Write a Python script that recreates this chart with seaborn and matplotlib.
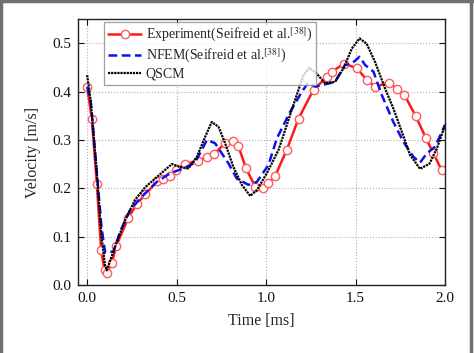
import numpy as np
import pandas as pd
import seaborn as sns
import matplotlib
matplotlib.use('Agg')
import matplotlib.pyplot as plt
from matplotlib.lines import Line2D

# Experiment (Seifreid et al.) - markers
exp_t = [0.0, 0.026, 0.054, 0.078, 0.097, 0.11, 0.138, 0.162, 0.23, 0.277, 0.324,
         0.393, 0.426, 0.464, 0.497, 0.547, 0.618, 0.668, 0.709, 0.771, 0.814,
         0.845, 0.888, 0.939, 0.985, 1.013, 1.05, 1.116, 1.181, 1.265, 1.339,
         1.367, 1.437, 1.507, 1.563, 1.609, 1.684, 1.73, 1.773, 1.836, 1.894,
         1.935, 1.98]
exp_v = [0.41, 0.344, 0.209, 0.072, 0.03, 0.024, 0.045, 0.08, 0.139, 0.167, 0.187,
         0.215, 0.22, 0.225, 0.238, 0.251, 0.256, 0.265, 0.27, 0.294, 0.298,
         0.287, 0.241, 0.203, 0.2, 0.21, 0.225, 0.28, 0.344, 0.404, 0.43,
         0.441, 0.458, 0.448, 0.424, 0.41, 0.418, 0.406, 0.393, 0.349, 0.303,
         0.272, 0.238]

# NFEM (Seifreid et al.)
nfem_t = [0.0, 0.02, 0.05, 0.08, 0.1, 0.147, 0.184, 0.24, 0.315, 0.389, 0.464,
          0.538, 0.603, 0.64, 0.669, 0.715, 0.79, 0.836, 0.901, 0.948, 1.013,
          1.06, 1.134, 1.199, 1.236, 1.274, 1.33, 1.385, 1.441, 1.479, 1.522,
          1.553, 1.6, 1.646, 1.711, 1.767, 1.823, 1.86, 1.898, 1.944, 2.0]
nfem_v = [0.41, 0.38, 0.25, 0.12, 0.067, 0.069, 0.11, 0.155, 0.186, 0.213, 0.231,
          0.241, 0.253, 0.279, 0.3, 0.293, 0.251, 0.22, 0.207, 0.213, 0.248,
          0.303, 0.358, 0.399, 0.419, 0.41, 0.415, 0.42, 0.455, 0.458, 0.472,
          0.455, 0.441, 0.393, 0.337, 0.296, 0.265, 0.253, 0.272, 0.286, 0.331]

# QSCM
qscm_t = [0.0, 0.02, 0.05, 0.08, 0.1, 0.11, 0.156, 0.212, 0.268, 0.324, 0.38,
          0.436, 0.473, 0.52, 0.566, 0.613, 0.659, 0.696, 0.734, 0.771, 0.817,
          0.864, 0.911, 0.948, 1.004, 1.069, 1.097, 1.171, 1.209, 1.242, 1.283,
          1.33, 1.385, 1.432, 1.479, 1.522, 1.562, 1.609, 1.665, 1.711, 1.758,
          1.804, 1.86, 1.913, 1.954, 2.0]
qscm_v = [0.434, 0.38, 0.25, 0.1, 0.04, 0.03, 0.079, 0.134, 0.176, 0.202, 0.22,
          0.238, 0.25, 0.244, 0.241, 0.265, 0.306, 0.337, 0.327, 0.293, 0.244,
          0.207, 0.184, 0.196, 0.231, 0.279, 0.31, 0.393, 0.434, 0.449, 0.437,
          0.417, 0.42, 0.448, 0.489, 0.51, 0.499, 0.461, 0.406, 0.365, 0.317,
          0.269, 0.24, 0.251, 0.282, 0.331]

x_ticks = [0.0, 0.5, 1.0, 1.5, 2.0]
y_ticks = [0.0, 0.1, 0.2, 0.3, 0.4, 0.5]

sns.set_theme(style="ticks")
plt.rcParams['font.family'] = ['Liberation Serif', 'DejaVu Serif']
plt.rcParams['mathtext.fontset'] = 'stix'

fig = plt.figure(figsize=(4.74, 3.53), dpi=100)
ax = fig.add_axes([0.165, 0.193, 0.774, 0.753])

exp_df = pd.DataFrame({"t": exp_t, "v": exp_v})
nfem_df = pd.DataFrame({"t": nfem_t, "v": nfem_v})
qscm_df = pd.DataFrame({"t": qscm_t, "v": qscm_v})

sns.lineplot(data=exp_df, x="t", y="v", ax=ax, color="#ff1a1a", lw=1.8,
             marker="o", markersize=6, markerfacecolor="white",
             markeredgecolor="#ff5c5c", markeredgewidth=1.0,
             label=r"Experiment(Seifreid et al.$^{[38]}$)")
sns.lineplot(data=nfem_df, x="t", y="v", ax=ax, color="#1010ee", lw=1.8,
             label=r"NFEM(Seifreid et al.$^{[38]}$)")
ax.lines[-1].set_linestyle((0, (3.5, 1.8)))
sns.lineplot(data=qscm_df, x="t", y="v", ax=ax, color="black", lw=1.6,
             label="QSCM")
ax.lines[-1].set_linestyle((0, (1, 0.4)))

ax.set_xlim(-0.05, 2.0)
ax.set_ylim(0.0, 0.55)
ax.set_xticks(x_ticks)
ax.set_yticks(y_ticks)
ax.set_xticklabels([f"{v:.1f}" for v in x_ticks])
ax.set_yticklabels([f"{v:.1f}" for v in y_ticks])
ax.grid(True, color="#b0b0b0", linestyle=":", linewidth=0.8)
ax.tick_params(direction="in", top=True, right=True, length=4, width=0.8,
               labelsize=11, colors="#111111", pad=5)
for s in ax.spines.values():
    s.set_linewidth(1.0)
    s.set_color("#222222")

ax.set_xlabel("Time [ms]", fontsize=11.5, labelpad=6)
ax.set_ylabel("Velocity [m/s]", fontsize=11.5, labelpad=8)

leg = ax.legend(loc="upper left", bbox_to_anchor=(0.07, 0.99), fontsize=10,
                frameon=True, fancybox=False, edgecolor="#888888",
                handlelength=2.4, labelspacing=0.2, borderpad=0.3,
                handletextpad=0.3, borderaxespad=0.0)
leg.get_frame().set_linewidth(0.9)

# grey frame around the picture
for xs, ys in [([0.003, 0.003], [0, 1]), ([0, 1], [0.996, 0.996]),
               ([0.994, 0.994], [0, 1])]:
    fig.add_artist(Line2D(xs, ys, transform=fig.transFigure,
                          color="#707070", lw=2.5))

fig.savefig("out.png", dpi=100)
